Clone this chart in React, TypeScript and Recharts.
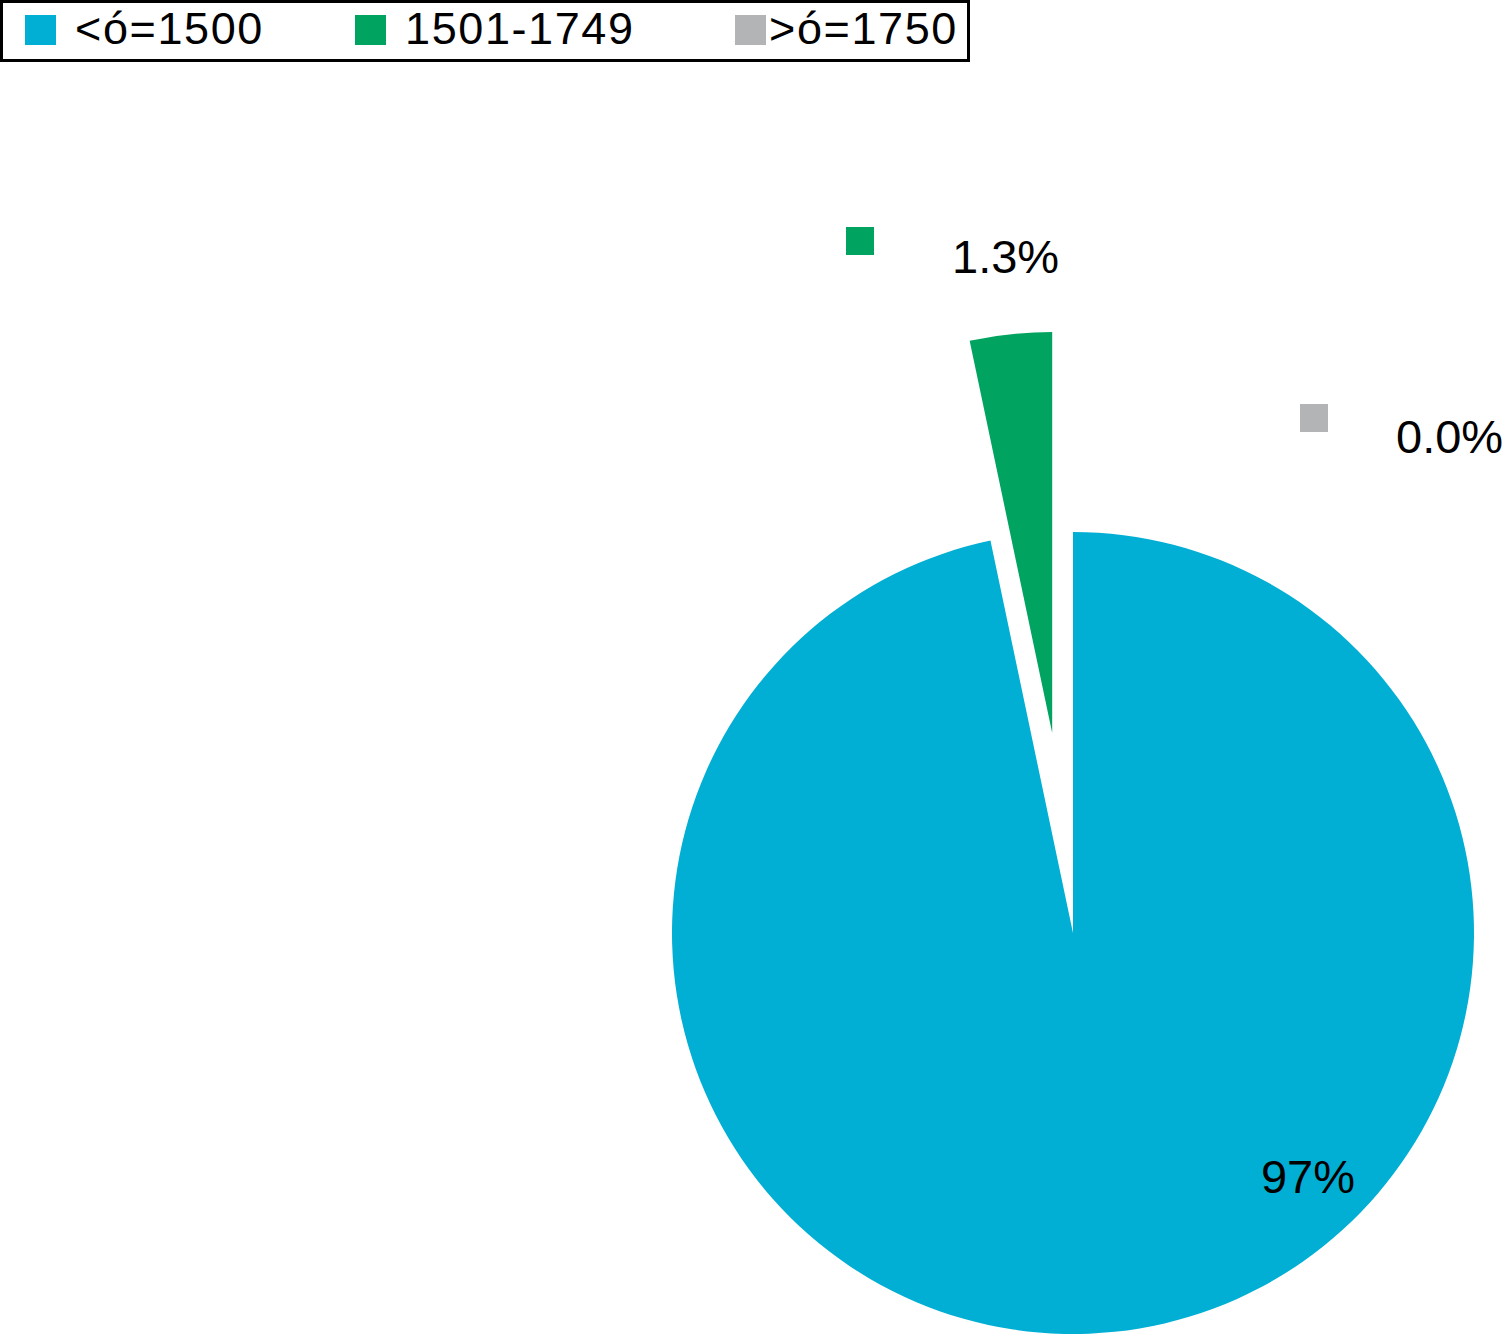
import { PieChart, Pie, Cell, Legend } from 'recharts'

const categories = ['<ó=1500', '1501-1749', '>ó=1750']
const shares = [96.7, 3.3, 0]
const pctLabels = ['97%', '1.3%', '0.0%']
const colors = ['#00AFD3', '#00A360', '#B2B4B6']

const data = categories.map((name, i) => ({ name, value: shares[i] }))

const FONT = '"Liberation Sans", Arial, Helvetica, sans-serif'
const CX = 1073
const CY = 933
const R = 401
const EXPLODE = 201

// midpoint angle of the exploded slice (clockwise from 12 o'clock)
const total = shares.reduce((a, b) => a + b, 0)
const before = shares[0]
const greenMid = 90 - (360 * (before + shares[1] / 2)) / total
const offX = EXPLODE * Math.cos((greenMid * Math.PI) / 180)
const offY = -EXPLODE * Math.sin((greenMid * Math.PI) / 180)

const renderLabel = (props: any) => {
  const { index } = props
  if (index === 0) {
    return (
      <text x={CX + 235} y={CY + 260} textAnchor="middle" fontSize={47} fontFamily={FONT} fill="#000">
        {pctLabels[0]}
      </text>
    )
  }
  if (index === 1) {
    return (
      <g>
        <rect x={CX - 227} y={CY - 706} width={28} height={28} fill={colors[1]} />
        <text x={CX - 121} y={CY - 660} fontSize={47} fontFamily={FONT} fill="#000">
          {pctLabels[1]}
        </text>
      </g>
    )
  }
  return (
    <g>
      <rect x={CX + 227} y={CY - 529} width={28} height={28} fill={colors[2]} />
      <text x={CX + 323} y={CY - 480} fontSize={47} fontFamily={FONT} fill="#000">
        {pctLabels[2]}
      </text>
    </g>
  )
}

const legendX = [25, 355, 735]

const renderLegend = () => (
  <div
    style={{
      position: 'relative',
      width: 964,
      height: 56,
      border: '3px solid #000',
      background: '#fff',
      fontFamily: FONT,
    }}
  >
    {categories.map((c, i) => (
      <div key={c}>
        <div
          style={{
            position: 'absolute',
            left: legendX[i] - 3,
            top: 12,
            width: 31,
            height: 30,
            background: colors[i],
          }}
        />
        <div
          style={{
            position: 'absolute',
            left: legendX[i] + (i === 2 ? 31 : 47),
            top: 0,
            fontSize: 45,
            letterSpacing: 1.6,
            lineHeight: '52px',
            color: '#000',
            whiteSpace: 'nowrap',
          }}
        >
          {c}
        </div>
      </div>
    ))}
  </div>
)

export default function App() {
  return (
    <div style={{ position: 'absolute', left: 0, top: 0, background: '#fff' }}>
      <PieChart width={1506} height={1343} margin={{ top: 0, right: 0, bottom: 0, left: 0 }}>
        <Legend
          content={renderLegend}
          layout="horizontal"
          verticalAlign="bottom"
          align="left"
          wrapperStyle={{ top: 0, left: 0, bottom: 'auto', width: 970 }}
        />
        <Pie
          data={data}
          dataKey="value"
          nameKey="name"
          cx={CX}
          cy={CY}
          outerRadius={R}
          startAngle={90}
          endAngle={-270}
          stroke="none"
          label={renderLabel}
          labelLine={false}
          isAnimationActive={false}
        >
          {data.map((d, i) => (
            <Cell key={d.name} fill={i === 1 ? 'transparent' : colors[i]} />
          ))}
        </Pie>
        <Pie
          data={data}
          dataKey="value"
          nameKey="name"
          cx={CX + offX}
          cy={CY + offY}
          outerRadius={R}
          startAngle={90}
          endAngle={-270}
          stroke="none"
          legendType="none"
          isAnimationActive={false}
        >
          {data.map((d, i) => (
            <Cell key={d.name} fill={i === 1 ? colors[1] : 'transparent'} />
          ))}
        </Pie>
      </PieChart>
    </div>
  )
}
